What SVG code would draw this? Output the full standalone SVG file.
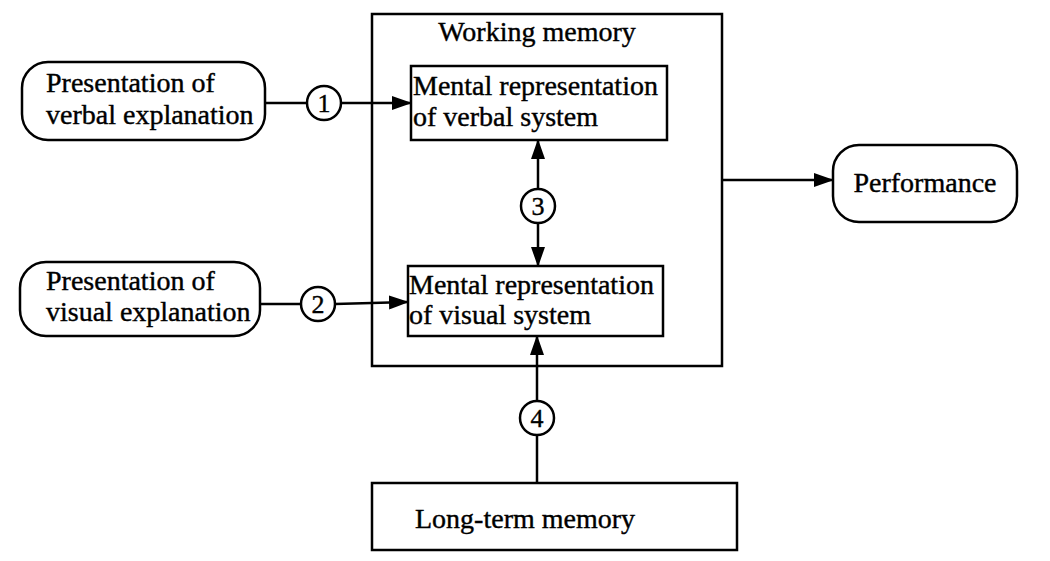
<svg xmlns="http://www.w3.org/2000/svg" width="1050" height="561" viewBox="0 0 1050 561">
<defs>
<marker id="ah" markerWidth="20" markerHeight="14" refX="19" refY="7" orient="auto-start-reverse" markerUnits="userSpaceOnUse"><path d="M0,0 L20,7 L0,14 Z" fill="#000"/></marker>
<style>
.b{fill:#fff;stroke:#000;stroke-width:2.5}
.t{font-family:"Liberation Serif",serif;font-size:28px;fill:#000;stroke:#000;stroke-width:0.4}
.c{font-family:"Liberation Serif",serif;font-size:26px;fill:#000;text-anchor:middle;stroke:#000;stroke-width:0.4}
.l{stroke:#000;stroke-width:2.5;fill:none}
</style>
</defs>
<rect width="1050" height="561" fill="#fff"/>
<g id="wm"><rect class="b" x="372" y="14" width="350" height="352"/><text class="t" x="537" y="41" text-anchor="middle">Working memory</text></g>
<g id="verbal"><rect class="b" x="411" y="66" width="256" height="74"/><text class="t" x="413" y="95">Mental representation</text><text class="t" x="413" y="126">of verbal system</text></g>
<g id="visual"><rect class="b" x="408" y="266" width="255" height="70"/><text class="t" x="409" y="294">Mental representation</text><text class="t" x="409" y="324">of visual system</text></g>
<g id="pverbal"><rect class="b" x="22" y="62" width="243" height="78" rx="26"/><text class="t" x="46" y="92">Presentation of</text><text class="t" x="46" y="124">verbal explanation</text></g>
<g id="pvisual"><rect class="b" x="20" y="262" width="240" height="74" rx="26"/><text class="t" x="46" y="290">Presentation of</text><text class="t" x="46" y="321">visual explanation</text></g>
<g id="perf"><rect class="b" x="833" y="145" width="184" height="77" rx="26"/><text class="t" x="925" y="192" text-anchor="middle">Performance</text></g>
<g id="ltm"><rect class="b" x="372" y="483" width="365" height="67"/><text class="t" x="415" y="528">Long-term memory</text></g>
<g id="connectors">
<line class="l" x1="265" y1="103" x2="307" y2="103"/><line class="l" x1="341" y1="103" x2="411" y2="103" marker-end="url(#ah)"/>
<line class="l" x1="260" y1="304" x2="301" y2="304"/><line class="l" x1="335" y1="304" x2="408" y2="302" marker-end="url(#ah)"/>
<line class="l" x1="538" y1="189" x2="538" y2="140" marker-end="url(#ah)"/><line class="l" x1="538" y1="223" x2="538" y2="266" marker-end="url(#ah)"/>
<line class="l" x1="537" y1="483" x2="537" y2="435"/><line class="l" x1="537" y1="401" x2="537" y2="336" marker-end="url(#ah)"/>
<line class="l" x1="722" y1="180" x2="833" y2="180" marker-end="url(#ah)"/>
<circle class="b" cx="324" cy="103" r="17"/><text class="c" x="324" y="112">1</text>
<circle class="b" cx="318" cy="304" r="17"/><text class="c" x="318" y="313">2</text>
<circle class="b" cx="538" cy="206" r="17"/><text class="c" x="538" y="215">3</text>
<circle class="b" cx="537" cy="418" r="17"/><text class="c" x="537" y="427">4</text>
</g>
</svg>
